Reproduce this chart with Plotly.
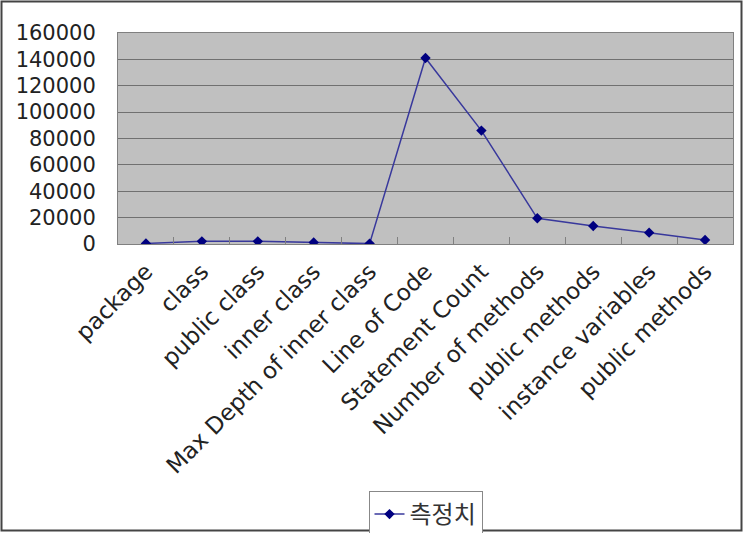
import plotly.graph_objects as go

categories = ["package", "class", "public class", "inner class", "Max Depth of inner class",
              "Line of Code", "Statement Count", "Number of methods", "public methods",
              "instance variables", "public methods"]
values = [400, 2000, 2000, 1200, 300, 141000, 86000, 19500, 13700, 8600, 3000]
series_name = "측정치"
y_ticks = [0, 20000, 40000, 60000, 80000, 100000, 120000, 140000, 160000]

W, H = 745, 533
L, R, T, B = 118, 12, 33, 289
pw, ph = W - L - R, H - T - B

def px(x):
    return (x - L) / pw

def py(y):
    return (H - B - y) / ph

xpos = list(range(len(categories)))

fig = go.Figure()
fig.add_trace(go.Scatter(
    x=xpos, y=values, mode="lines+markers", name=series_name,
    line=dict(color="#38389c", width=1.5),
    marker=dict(symbol="diamond", size=8, color="#000080"),
))

font = "DejaVu Sans, sans-serif"
fig.update_layout(
    width=W, height=H,
    margin=dict(l=L, r=R, t=T, b=B, autoexpand=False),
    paper_bgcolor="white",
    plot_bgcolor="#c0c0c0",
    showlegend=True,
    legend=dict(
        orientation="h", x=0.5, xanchor="center", y=py(491), yanchor="top",
        bordercolor="#888888", borderwidth=1, bgcolor="white",
        font=dict(family="Noto Sans CJK KR, sans-serif", size=24, color="#333333"),
    ),
    xaxis=dict(
        range=[-0.5, len(categories) - 0.5], automargin=False,
        tickmode="array", tickvals=xpos, ticktext=categories,
        tickangle=-45, ticks="outside", ticklen=4, tickcolor="rgba(0,0,0,0)",
        tickfont=dict(family=font, size=23, color="#222222"),
        showgrid=False, zeroline=False,
        showline=True, linecolor="#808080", linewidth=1, mirror=True,
        minor=dict(tickmode="array", tickvals=[i + 0.5 for i in xpos[:-1]],
                   ticks="inside", ticklen=7, tickcolor="#808080", showgrid=False),
    ),
    yaxis=dict(
        range=[0, 160000], tickmode="array", tickvals=y_ticks, automargin=False,
        ticktext=[str(v) for v in y_ticks],
        ticks="outside", ticklen=17, tickcolor="rgba(0,0,0,0)",
        tickfont=dict(family=font, size=21, color="#222222"),
        showgrid=True, gridcolor="#707070", gridwidth=1,
        zeroline=False,
        showline=True, linecolor="#808080", linewidth=1, mirror=True,
    ),
    shapes=[
        dict(type="rect", xref="paper", yref="paper",
             x0=px(1.5), x1=px(741.5), y0=py(530.5), y1=py(1.5),
             line=dict(color="#444444", width=2), fillcolor="rgba(0,0,0,0)", layer="above"),
    ],
)

fig.write_html("out.html", config={"displayModeBar": False},
               post_script="document.body.style.margin='0';document.body.style.overflow='hidden';")
